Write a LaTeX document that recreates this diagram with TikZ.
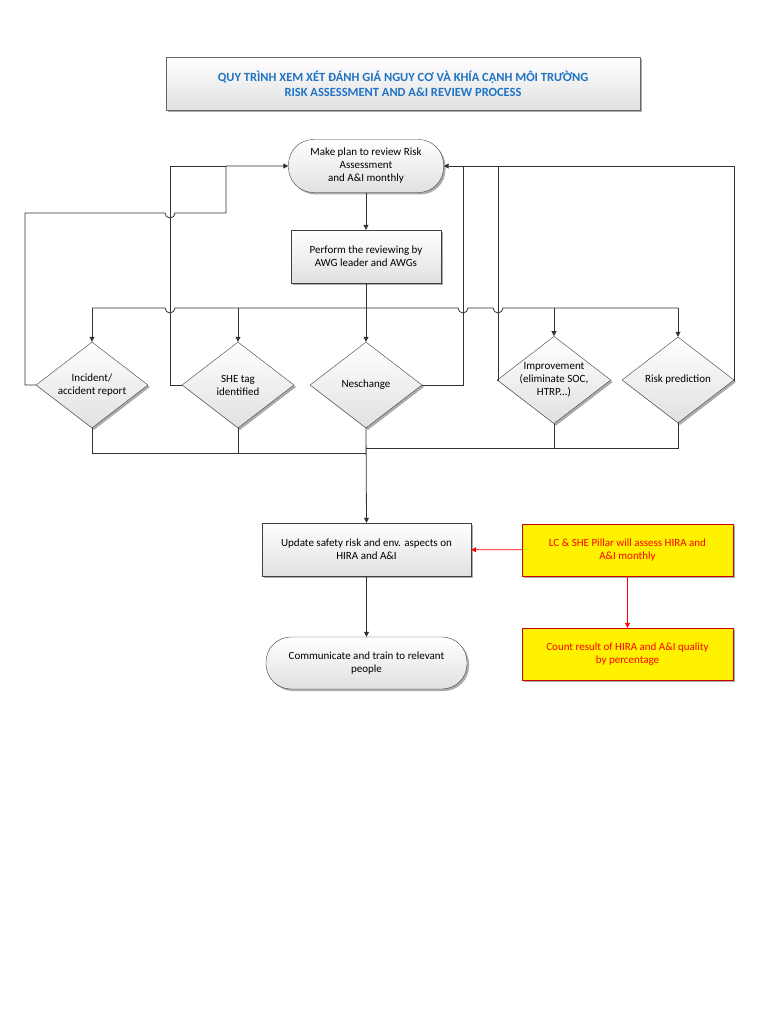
\documentclass[tikz,border=0pt]{standalone}
\usepackage{fontspec}
\setmainfont{Carlito}
\usetikzlibrary{arrows.meta,shapes.geometric,shadows}
\definecolor{tblue}{HTML}{1F73C4}
\begin{document}
\begin{tikzpicture}[x=1pt,y=-1pt,
  every node/.style={font=\fontsize{11}{13}\selectfont,align=center},
  sh/.style={drop shadow={shadow xshift=2pt,shadow yshift=-2pt,fill=black!55,opacity=0.6}},
  box/.style={draw=black!75,sh,top color=white,bottom color=black!12,inner sep=2pt},
  term/.style={box,rounded corners=16pt},
  dia/.style={draw=black!75,sh,diamond,top color=white,bottom color=black!12,inner sep=0pt,aspect=1.3},
  ybox/.style={draw=red!80!black,fill=yellow,text=red,minimum width=211pt,minimum height=52pt,sh},
  ln/.style={draw=black!80,line width=0.8pt},
  ar/.style={ln,-{Triangle[length=5pt,width=5pt]}},
  rar/.style={draw=red,line width=0.8pt,-{Triangle[length=5pt,width=5pt]}},
  jump/.style={ln}]
\useasboundingbox (0,0) rectangle (768,1024);
\node[box,draw=black!60,minimum width=474pt,minimum height=53pt,font=\fontsize{12.5}{15}\selectfont\bfseries,text=tblue] (title) at (403,83.5) {QUY TRÌNH XEM XÉT ĐÁNH GIÁ NGUY CƠ VÀ KHÍA CẠNH MÔI TRƯỜNG\\RISK ASSESSMENT AND A\&I REVIEW PROCESS};
\node[term,minimum width=155pt,minimum height=53pt,rounded corners=25pt] (start) at (366,166) {Make plan to review Risk\\Assessment\\and A\&I monthly};
\node[box,minimum width=150pt,minimum height=53pt] (perf) at (366,256.5) {Perform the reviewing by\\AWG leader and AWGs};
\node[dia,minimum width=112pt,minimum height=86pt] (d1) at (92,385) {Incident/\\accident report};
\node[dia,minimum width=112pt,minimum height=86pt] (d2) at (238,385) {SHE tag\\identified};
\node[dia,minimum width=112pt,minimum height=86pt] (d3) at (366,385) {Neschange};
\node[dia,minimum width=112pt,minimum height=86pt] (d4) at (554,380) {Improvement\\(eliminate SOC,\\HTRP...)};
\node[dia,minimum width=112pt,minimum height=86pt] (d5) at (678,380) {Risk prediction};
\node[box,minimum width=209pt,minimum height=53pt] (upd) at (366.5,549.5) {Update safety risk and env. aspects on\\HIRA and A\&I};
\node[term,minimum width=201pt,minimum height=52pt,rounded corners=25pt] (comm) at (366.5,663) {Communicate and train to relevant\\people};
\node[ybox] (lc) at (627.5,550) {LC \& SHE Pillar will assess HIRA and\\A\&I monthly};
\node[ybox] (cnt) at (627.5,654) {Count result of HIRA and A\&I quality\\by percentage};
% main flow
\draw[ar] (start) -- (perf);
\coordinate (br) at (366,308);
\draw[ln] (perf) -- (br);
\draw[ln] (92,308) -- (165,308) arc (180:0:5) -- (458,308) arc (180:0:5) -- (493,308) arc (180:0:5) -- (678,308);
\draw[ar] (92,308) -- (d1.north);
\draw[ar] (238,308) -- (d2.north);
\draw[ar] (br) -- (d3.north);
\draw[ar] (554,308) -- (d4.north);
\draw[ar] (678,308) -- (d5.north);
% feedback
\draw[ar] (d1.west) -- (25,385) -- (25,213) -- (165,213) arc (180:0:5) -- (226,213) -- (226,166) -- (start.west);
\draw[ln] (d2.west) -- (170,385) -- (170,166) -- (226,166);
\draw[ar] (d3.east) -- (463,385) -- (463,166) -- (start.east);
\draw[ln] (d4.west) -- (498,380) -- (498,166);
\draw[ln] (d5.east) -- (734,380) -- (734,166) -- (463,166);
% merge
\draw[ln] (d1.south) -- (92,453) -- (366,453);
\draw[ln] (d2.south) -- (238,453);
\draw[ln] (d4.south) -- (554,448) -- (366,448);
\draw[ln] (d5.south) -- (678,448) -- (554,448);
\draw[ar] (d3.south) -- (upd.north);
\draw[ar] (upd) -- (comm);
\draw[rar] (lc) -- (upd);
\draw[rar] (lc) -- (cnt);
\end{tikzpicture}
\end{document}
